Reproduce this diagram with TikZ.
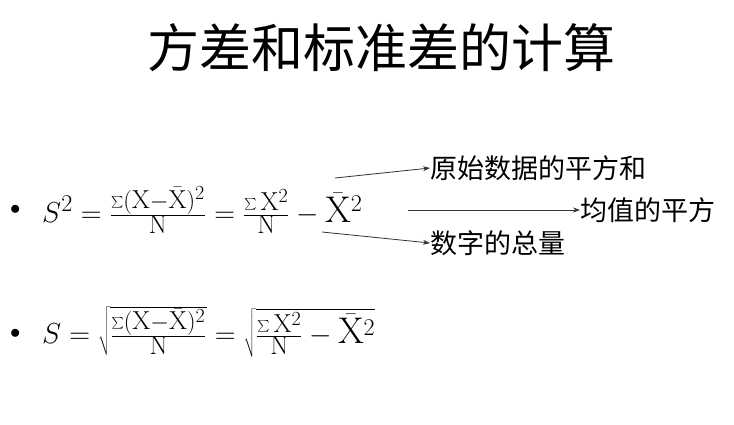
\documentclass[tikz,border=0pt]{standalone}
\usepackage{fontspec}
\usepackage{graphicx}
\usetikzlibrary{arrows.meta}
\newfontfamily\cjk{Noto Sans CJK SC}
\begin{document}
\begin{tikzpicture}[x=1pt,y=-1pt,
  lbl/.style={font=\cjk\fontsize{27}{30}\selectfont,anchor=west,inner sep=0},
  frm/.style={font=\fontsize{32}{38}\selectfont,anchor=west,inner sep=0},
  arr/.style={-{Stealth[length=7pt,width=5pt]},line width=0.8pt,black!80}]
\useasboundingbox (0,0) rectangle (734,424);
\node[font=\cjk\fontsize{52}{58}\selectfont] (title) at (381,48) {方差和标准差的计算};
\node[font=\fontsize{22}{26}\selectfont,anchor=west,inner sep=0] (b1) at (10,210) {$\bullet$};
\node[frm] (f1) at (42,210) {\scalebox{1.16}{$S^2=\frac{\sum(\mathrm{X}-\bar{\mathrm{X}})^2}{\mathrm{N}}=\frac{\sum\mathrm{X}^2}{\mathrm{N}}-\bar{\mathrm{X}}^2$}};
\node[font=\fontsize{22}{26}\selectfont,anchor=west,inner sep=0] (b2) at (10,334) {$\bullet$};
\node[frm] (f2) at (42,332) {\scalebox{1.16}{$S=\sqrt{\frac{\sum(\mathrm{X}-\bar{\mathrm{X}})^2}{\mathrm{N}}}=\sqrt{\frac{\sum\mathrm{X}^2}{\mathrm{N}}-\bar{\mathrm{X}}^2}$}};
\node[lbl] (l1) at (430,168) {原始数据的平方和};
\node[lbl] (l2) at (580,210) {均值的平方};
\node[lbl] (l3) at (430,243) {数字的总量};
\coordinate (s1) at (335,178);
\coordinate (s2) at (408,210);
\coordinate (s3) at (322,232);
\draw[arr] (s1) -- (l1.west);
\draw[arr] (s2) -- (l2.west);
\draw[arr] (s3) -- (l3.west);
\end{tikzpicture}
\end{document}
